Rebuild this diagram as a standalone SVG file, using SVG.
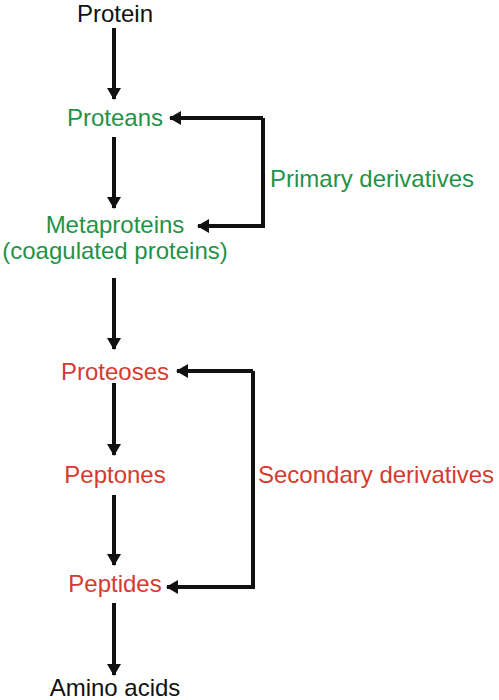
<svg xmlns="http://www.w3.org/2000/svg" width="499" height="700" viewBox="0 0 499 700">
<style>
text{font-family:"Liberation Sans",Arial,sans-serif;font-size:24px}
.k{fill:#111}
.g{fill:#1f9348}
.r{fill:#d63a2f}
.c{fill:none;stroke:#111;stroke-width:4;marker-end:url(#ah)}
.m{text-anchor:middle}
</style>
<defs>
<marker id="ah" markerUnits="userSpaceOnUse" markerWidth="12" markerHeight="14" viewBox="0 0 12 14" refX="11" refY="7" orient="auto">
<path d="M0,0 L12,7 L0,14 Z" fill="#111"/>
</marker>
</defs>
<rect width="499" height="700" fill="#fff"/>
<g id="connectors">
<path class="c" d="M114,28 V99"/>
<path class="c" d="M114,137 V208"/>
<path class="c" d="M114,278 V349"/>
<path class="c" d="M114,383 V455"/>
<path class="c" d="M114,495 V565"/>
<path class="c" d="M114,603 V675"/>
<path class="c" d="M263,118 H170"/>
<path class="c" d="M263,118 V226 H198"/>
<path class="c" d="M253,371 H177"/>
<path class="c" d="M253,371 V587 H167"/>
</g>
<g id="protein"><text class="k m" x="115" y="22">Protein</text></g>
<g id="proteans"><text class="g m" x="115" y="126">Proteans</text></g>
<g id="metaproteins"><text class="g m" x="115" y="233">Metaproteins</text><text class="g m" x="115" y="259">(coagulated proteins)</text></g>
<g id="primary"><text class="g" x="270" y="187">Primary derivatives</text></g>
<g id="proteoses"><text class="r m" x="115" y="380">Proteoses</text></g>
<g id="peptones"><text class="r m" x="115" y="483">Peptones</text></g>
<g id="secondary"><text class="r" x="258" y="483">Secondary derivatives</text></g>
<g id="peptides"><text class="r m" x="115" y="592">Peptides</text></g>
<g id="amino"><text class="k m" x="115" y="696">Amino acids</text></g>
</svg>
